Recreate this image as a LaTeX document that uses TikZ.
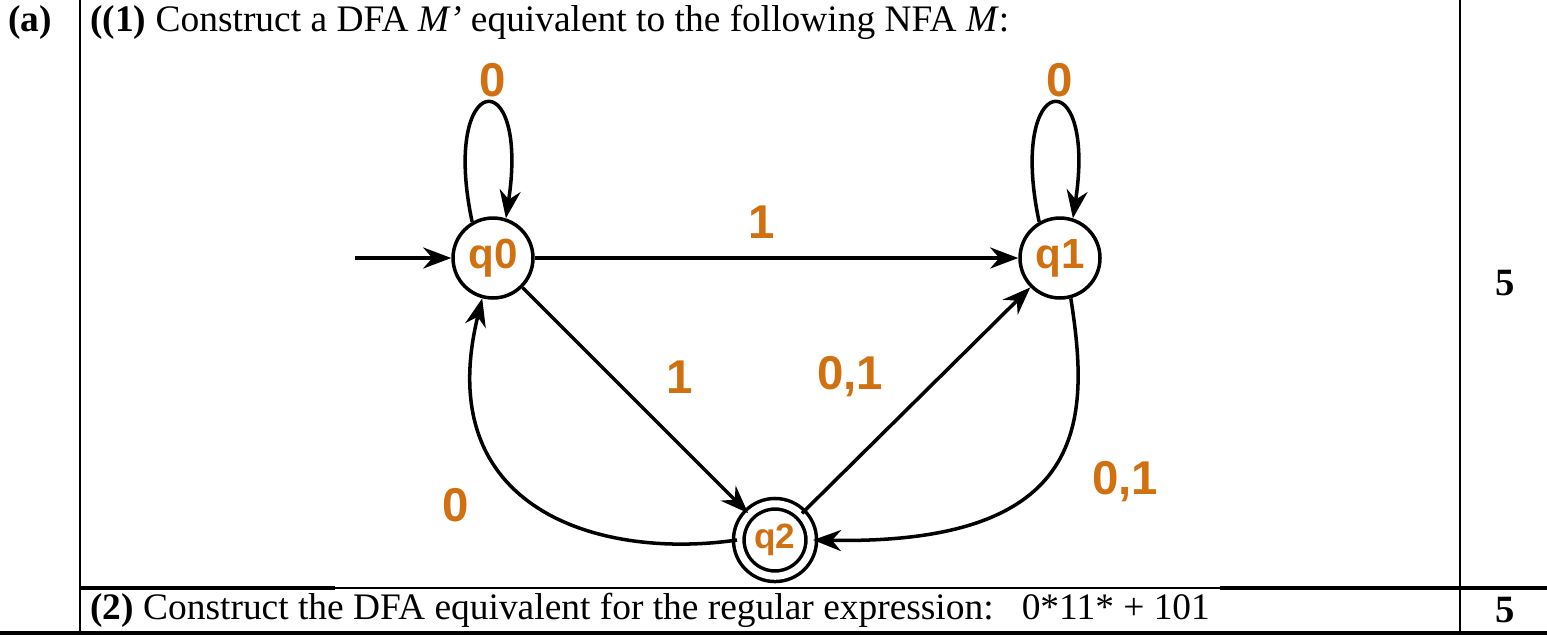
\documentclass[tikz,border=0pt]{standalone}
\usepackage{fontspec}
\setmainfont{Liberation Serif}
\newfontfamily\lblfont{Liberation Sans}
\usetikzlibrary{arrows.meta}
\definecolor{org}{HTML}{D07010}
\begin{document}
\begin{tikzpicture}[x=0.02cm,y=-0.02cm,
  st/.style={circle,draw,line width=2pt,minimum size=1.6cm,inner sep=0pt,text=org,font=\lblfont\bfseries\fontsize{24}{24}\selectfont},
  lbl/.style={text=org,font=\lblfont\bfseries\fontsize{27}{27}\selectfont},
  ed/.style={line width=2pt,-{Stealth[length=16pt,width=12pt]}},
  txt/.style={font=\fontsize{21.3}{26}\selectfont,anchor=west}]
\useasboundingbox (0,0) rectangle (1547,640);
\draw[line width=1pt] (80,0) -- (80,632);
\draw[line width=1pt] (1460,0) -- (1460,632);
\draw[line width=0.8pt] (80,588) -- (1547,588);
\draw[line width=2pt] (80,588) -- (335,588) (1220,588) -- (1547,588);
\draw[line width=2.5pt] (0,633) -- (1547,633);
\node[txt] (t0) at (2,22) {\textbf{(a)}};
\node[txt] (t1) at (84,22) {\textbf{((1)} Construct a DFA \textit{M'} equivalent to the following NFA \textit{M}:};
\node[txt] (t2) at (84,610) {\textbf{(2)} Construct the DFA equivalent for the regular expression:\ \ \ 0*11* + 101};
\node[font=\bfseries\fontsize{22}{26}\selectfont] (m1) at (1505,283) {5};
\node[font=\bfseries\fontsize{22}{26}\selectfont] (m2) at (1505,610) {5};
\node[st] (q0) at (493,258) {q0};
\node[st] (q1) at (1060,258) {q1};
\node[st,minimum size=1.45cm,double,double distance=4pt,font=\lblfont\bfseries\fontsize{20}{20}\selectfont] (q2) at (775,540) {q2};
\coordinate (s) at (355,258);
\draw[ed] (s) -- (q0);
\draw[ed] (q0.120) .. controls (440,70) and (530,60) .. (q0.72);
\draw[ed] (q1.120) .. controls (1007,70) and (1097,60) .. (q1.72);
\draw[ed] (q0) -- (q1);
\draw[ed] (q0) -- (q2);
\draw[ed] (q2) -- (q1);
\draw[ed] (q1.285) .. controls (1090,420) and (1090,545) .. (q2.east);
\draw[ed] (q2.west) .. controls (600,560) and (430,510) .. (q0.255);
\node[lbl] (l1) at (493,80) {0};
\node[lbl] (l2) at (1060,80) {0};
\node[lbl] (l3) at (762,222) {1};
\node[lbl] (l4) at (680,377) {1};
\node[lbl] (l5) at (850,377) {0,1};
\node[lbl] (l6) at (1125,482) {0,1};
\node[lbl] (l7) at (456,505) {0};
\end{tikzpicture}
\end{document}
